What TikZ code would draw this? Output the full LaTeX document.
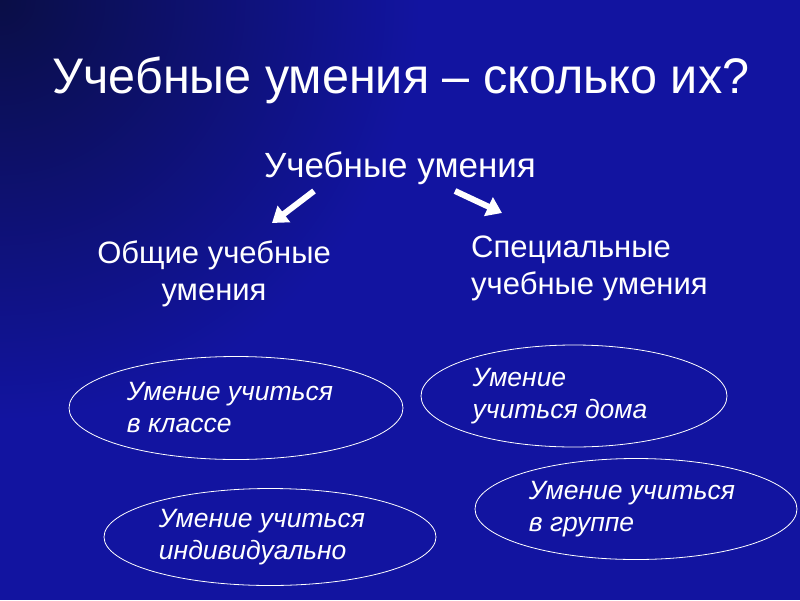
\documentclass[tikz,border=0pt]{standalone}
\usepackage{fontspec}
\setmainfont{Liberation Sans}
\newfontfamily\narrowfont[FakeStretch=0.97]{Liberation Sans}
\usepackage{tikz}
\usetikzlibrary{shapes.geometric,arrows.meta}

\definecolor{bgdark}{RGB}{10,14,70}
\definecolor{bgmid}{RGB}{18,20,160}

\begin{document}
\begin{tikzpicture}[x=1pt,y=-1pt]
        \tikzstyle{heading} = [text=white,inner sep=0pt]
        \tikzstyle{group} = [text=white,inner sep=0pt,font=\fontsize{31}{37}\selectfont]
        \tikzstyle{skill} = [ellipse,draw=white,line width=0.8pt,text=white,
          inner sep=0pt,align=left,font=\fontsize{26.5}{32}\selectfont\itshape]
        \tikzstyle{fat} = [draw=white,line width=6pt,-{Triangle[length=15pt,width=20pt]}]
        % background
        \fill[bgmid] (0,0) rectangle (800,600);
        \begin{scope}
          \clip (0,0) rectangle (800,600);
          \shade[inner color=bgdark,outer color=bgmid] (0,0) circle (420);
        \end{scope}
        \node[heading,font=\narrowfont\fontsize{50}{60}\selectfont] (title) at (401,80)
          {Учебные умения – сколько их?};
        \node[heading,font=\fontsize{35}{40}\selectfont] (sub) at (400,168) {Учебные умения};
        \node[group,align=center] (gen) at (214,274) {Общие учебные\\умения};
        \node[group,align=left,anchor=west] (spec) at (471,268) {Специальные\\учебные умения};
        \coordinate (l1) at (314,191);
        \coordinate (l2) at (272,223);
        \coordinate (r1) at (455,191);
        \coordinate (r2) at (502,213);
        \draw [fat] (l1) -- (l2);
        \draw [fat] (r1) -- (r2);
        \node[skill,minimum width=334pt,minimum height=103pt] (cls) at (236,408)
          {Умение учиться\rule{12pt}{0pt}\\в классе};
        \node[skill,minimum width=306pt,minimum height=102pt] (home) at (574,396)
          {Умение\\учиться дома\rule{28pt}{0pt}};
        \node[skill,minimum width=322pt,minimum height=101pt] (grp) at (636,509)
          {Умение учиться\rule{8pt}{0pt}\\в группе};
        \node[skill,minimum width=332pt,minimum height=97pt] (ind) at (270,537)
          {Умение учиться\rule{16pt}{0pt}\\индивидуально};
      \end{tikzpicture}
\end{document}
